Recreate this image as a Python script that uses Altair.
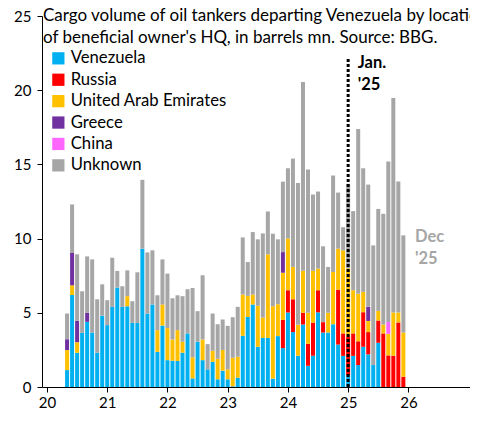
import altair as alt
import pandas as pd

# monthly observations, May 2020 - Dec 2025
months = pd.date_range("2020-05-01", "2025-12-01", freq="MS")

venezuela = [
    1.14, 6.2, 2.31, 3.65, 4.39, 3.67, 2.31, 4.81,
    4.17, 5.4, 6.7, 5.4, 5.44, 4.32, 4.32, 9.32, 4.95, 5.56, 2.37, 4.14,
    1.81, 1.77, 1.75, 2.31, 3.61, 0.58, 3.05, 1.81, 1.19, 1.7, 0.52, 1.1,
    0.52, 0.05, 0.63, 3.45, 4.72, 5.56, 2.71, 3.31, 3.31, 0.56, 3.43, 2.62,
    5.02, 3.7, 2.11, 4.21, 1.43, 2.11, 5.03, 3.67, 3.67, 4.23, 2.86, 2.1,
    0.8, 2.1, 1.48, 2.71, 2.2, 1.48, 2.98, 0, 0, 0, 0, 0,
]
russia = [
    0, 0, 0, 0, 0, 0, 0, 0,
    0, 0, 0, 0, 0, 0, 0, 0, 0, 0, 0, 0,
    0, 0, 0, 0, 0, 0, 0, 0, 0, 0, 0, 0,
    0, 0, 0, 0, 0, 0, 0, 0, 0, 0, 0, 1.9,
    1.5, 2.21, 0, 0.79, 1.48, 2.23, 1.49, 0.7, 0, 0, 3.7, 1.51,
    2.6, 1.51, 1.6, 2.33, 1.5, 0, 1.5, 3.61, 2.13, 2.11, 4.35, 0.69,
]
uae = [
    1.35, 0.65, 0.71, 0, 0, 0, 0, 0,
    0, 0, 0, 0, 0.68, 0, 0, 0, 0, 0, 1.46, 1.42,
    2.16, 1.43, 2.08, 0.74, 0, 1.42, 0, 1.39, 0, 0.74, 1.38, 1.39,
    0.67, 1.92, 1.41, 2.78, 1.42, 0.67, 2.76, 1.37, 5.63, 4.88, 2.15, 3.18,
    3.49, 2.18, 2.08, 2.84, 2.1, 3.49, 1.46, 0, 1.33, 3.52, 2.76, 5.6,
    4.6, 2.91, 3.2, 1.37, 0.75, 0, 0.65, 0.6, 1.45, 2.91, 0.67, 2.98,
]
greece = [
    0.73, 2.18, 1.44, 0, 0.6, 0, 0, 0,
    0, 0, 0, 0, 0, 0, 0, 0, 0, 0, 0, 0,
    0, 0, 0, 0, 0, 0, 0, 0, 0, 0, 0, 0,
    0, 0, 0, 0, 0, 0, 0, 0, 0, 0, 0, 1.39,
    0, 0, 0, 0, 0, 0, 0, 0, 0, 0, 0, 0,
    0, 0, 0, 0, 0.95, 0, 0, 0, 0, 0, 0, 0,
]
china = [
    0, 0, 0, 0, 0, 0, 0, 0,
    0, 0, 0, 0, 0, 0, 0, 0, 0, 0, 0, 0,
    0, 0, 0, 0, 0, 0, 0, 0, 0, 0, 0, 0,
    0, 0, 0, 0, 0, 0, 0, 0, 0, 0, 0, 0,
    0, 0, 0, 0, 0, 0, 0, 0, 0, 0, 0, 0,
    0, 0, 0, 0, 0, 0, 0, 0, 0.8, 0, 0, 0,
]
unknown = [
    1.73, 3.27, 4.48, 2.8, 3.81, 4.93, 3.6, 2.11,
    1.68, 3.31, 1.12, 1.39, 1.74, 1.46, 3.41, 4.64, 4.12, 3.65, 2.35, 3.04,
    3.67, 2.78, 2.35, 3.07, 2.98, 4.67, 2.06, 4.33, 1.7, 2.51, 2.33, 2.06,
    2.93, 2.73, 3.36, 3.85, 2.28, 4.21, 4.48, 5.67, 2.89, 4.89, 4.37, 4.75,
    4.73, 7.3, 9.56, 12.72, 9.64, 5.14, 5.19, 5.11, 3.09, 6.5, 3.78, 1.56,
    5.69, 5.33, 11.1, 8.33, 8.24, 8.06, 6.87, 7.46, 10.81, 14.45, 8.82, 6.55,
]

series = ["Venezuela", "Russia", "United Arab Emirates", "Greece", "China", "Unknown"]
colors = ["#00B0F0", "#FF0000", "#FFC000", "#7030A0", "#FF66FF", "#A6A6A6"]
x_ticks = [20, 21, 22, 23, 24, 25, 26]
y_ticks = [0, 5, 10, 15, 20, 25]

title_lines = [
    "Cargo volume of oil tankers departing Venezuela by location",
    "of beneficial owner's HQ, in barrels mn. Source: BBG.",
]

FONT = "Lato"

rows = []
for k, (name, vals) in enumerate(zip(series, [venezuela, russia, uae, greece, china, unknown])):
    for m, v in zip(months, vals):
        if v > 0:
            rows.append({"t": m.year - 2000 + (m.month - 1) / 12, "series": name, "k": k, "v": v})
df = pd.DataFrame(rows)

bars = alt.Chart(df).mark_bar(size=4).encode(
    x=alt.X("t:Q", title=None,
            scale=alt.Scale(domain=[20, 26.94], nice=False, zero=False),
            axis=alt.Axis(values=x_ticks, format="d", labelPadding=3)),
    y=alt.Y("sum(v):Q", title=None, stack="zero",
            scale=alt.Scale(domain=[0, 25], nice=False),
            axis=alt.Axis(values=y_ticks, labelPadding=6)),
    color=alt.Color("series:N", scale=alt.Scale(domain=series, range=colors),
                    legend=alt.Legend(title=None, orient="none", legendX=8, legendY=34,
                                      symbolType="square", symbolSize=150,
                                      symbolStrokeWidth=0, symbolOpacity=1,
                                      labelFontSize=16.7, labelFont=FONT, labelColor="black",
                                      rowPadding=3.4, labelOffset=4)),
    order=alt.Order("k:Q"),
)

# Jan. '25 marker
jan = pd.DataFrame({"t": [25], "lo": [0], "hi": [22.2]})
marker = alt.Chart(jan).mark_rule(color="black", strokeWidth=3, strokeDash=[3, 2]).encode(
    x="t:Q", y="lo:Q", y2="hi:Q"
)

def note(text, xv, yv, color):
    return alt.Chart().mark_text(align="left", baseline="middle", font=FONT,
                                 fontSize=16.5, fontWeight="bold", color=color).encode(
        x=alt.datum(xv), y=alt.datum(yv), text=alt.value(text)
    )

notes = (note("Jan.", 25.16, 21.8, "black") + note("'25", 25.16, 20.35, "black")
         + note("Dec", 26.11, 10.1, "#A6A6A6") + note("'25", 26.11, 8.6, "#A6A6A6"))

title = alt.Chart().mark_text(align="left", baseline="alphabetic", font=FONT,
                              fontSize=17, color="black", lineHeight=22).encode(
    x=alt.value(1), y=alt.value(5), text=alt.value(title_lines)
)

chart = alt.layer(bars, marker, notes, title).properties(
    width=428, height=371,
    padding={"left": 34, "top": 8, "right": 0, "bottom": 26},
    autosize=alt.AutoSizeParams(type="none"),
).configure_view(stroke=None).configure_axis(
    grid=False, domainColor="black", tickColor="black", tickSize=5,
    labelFont=FONT, labelFontSize=15, labelColor="black",
)

chart.save("out.html", embed_options={"renderer": "svg", "actions": False})
